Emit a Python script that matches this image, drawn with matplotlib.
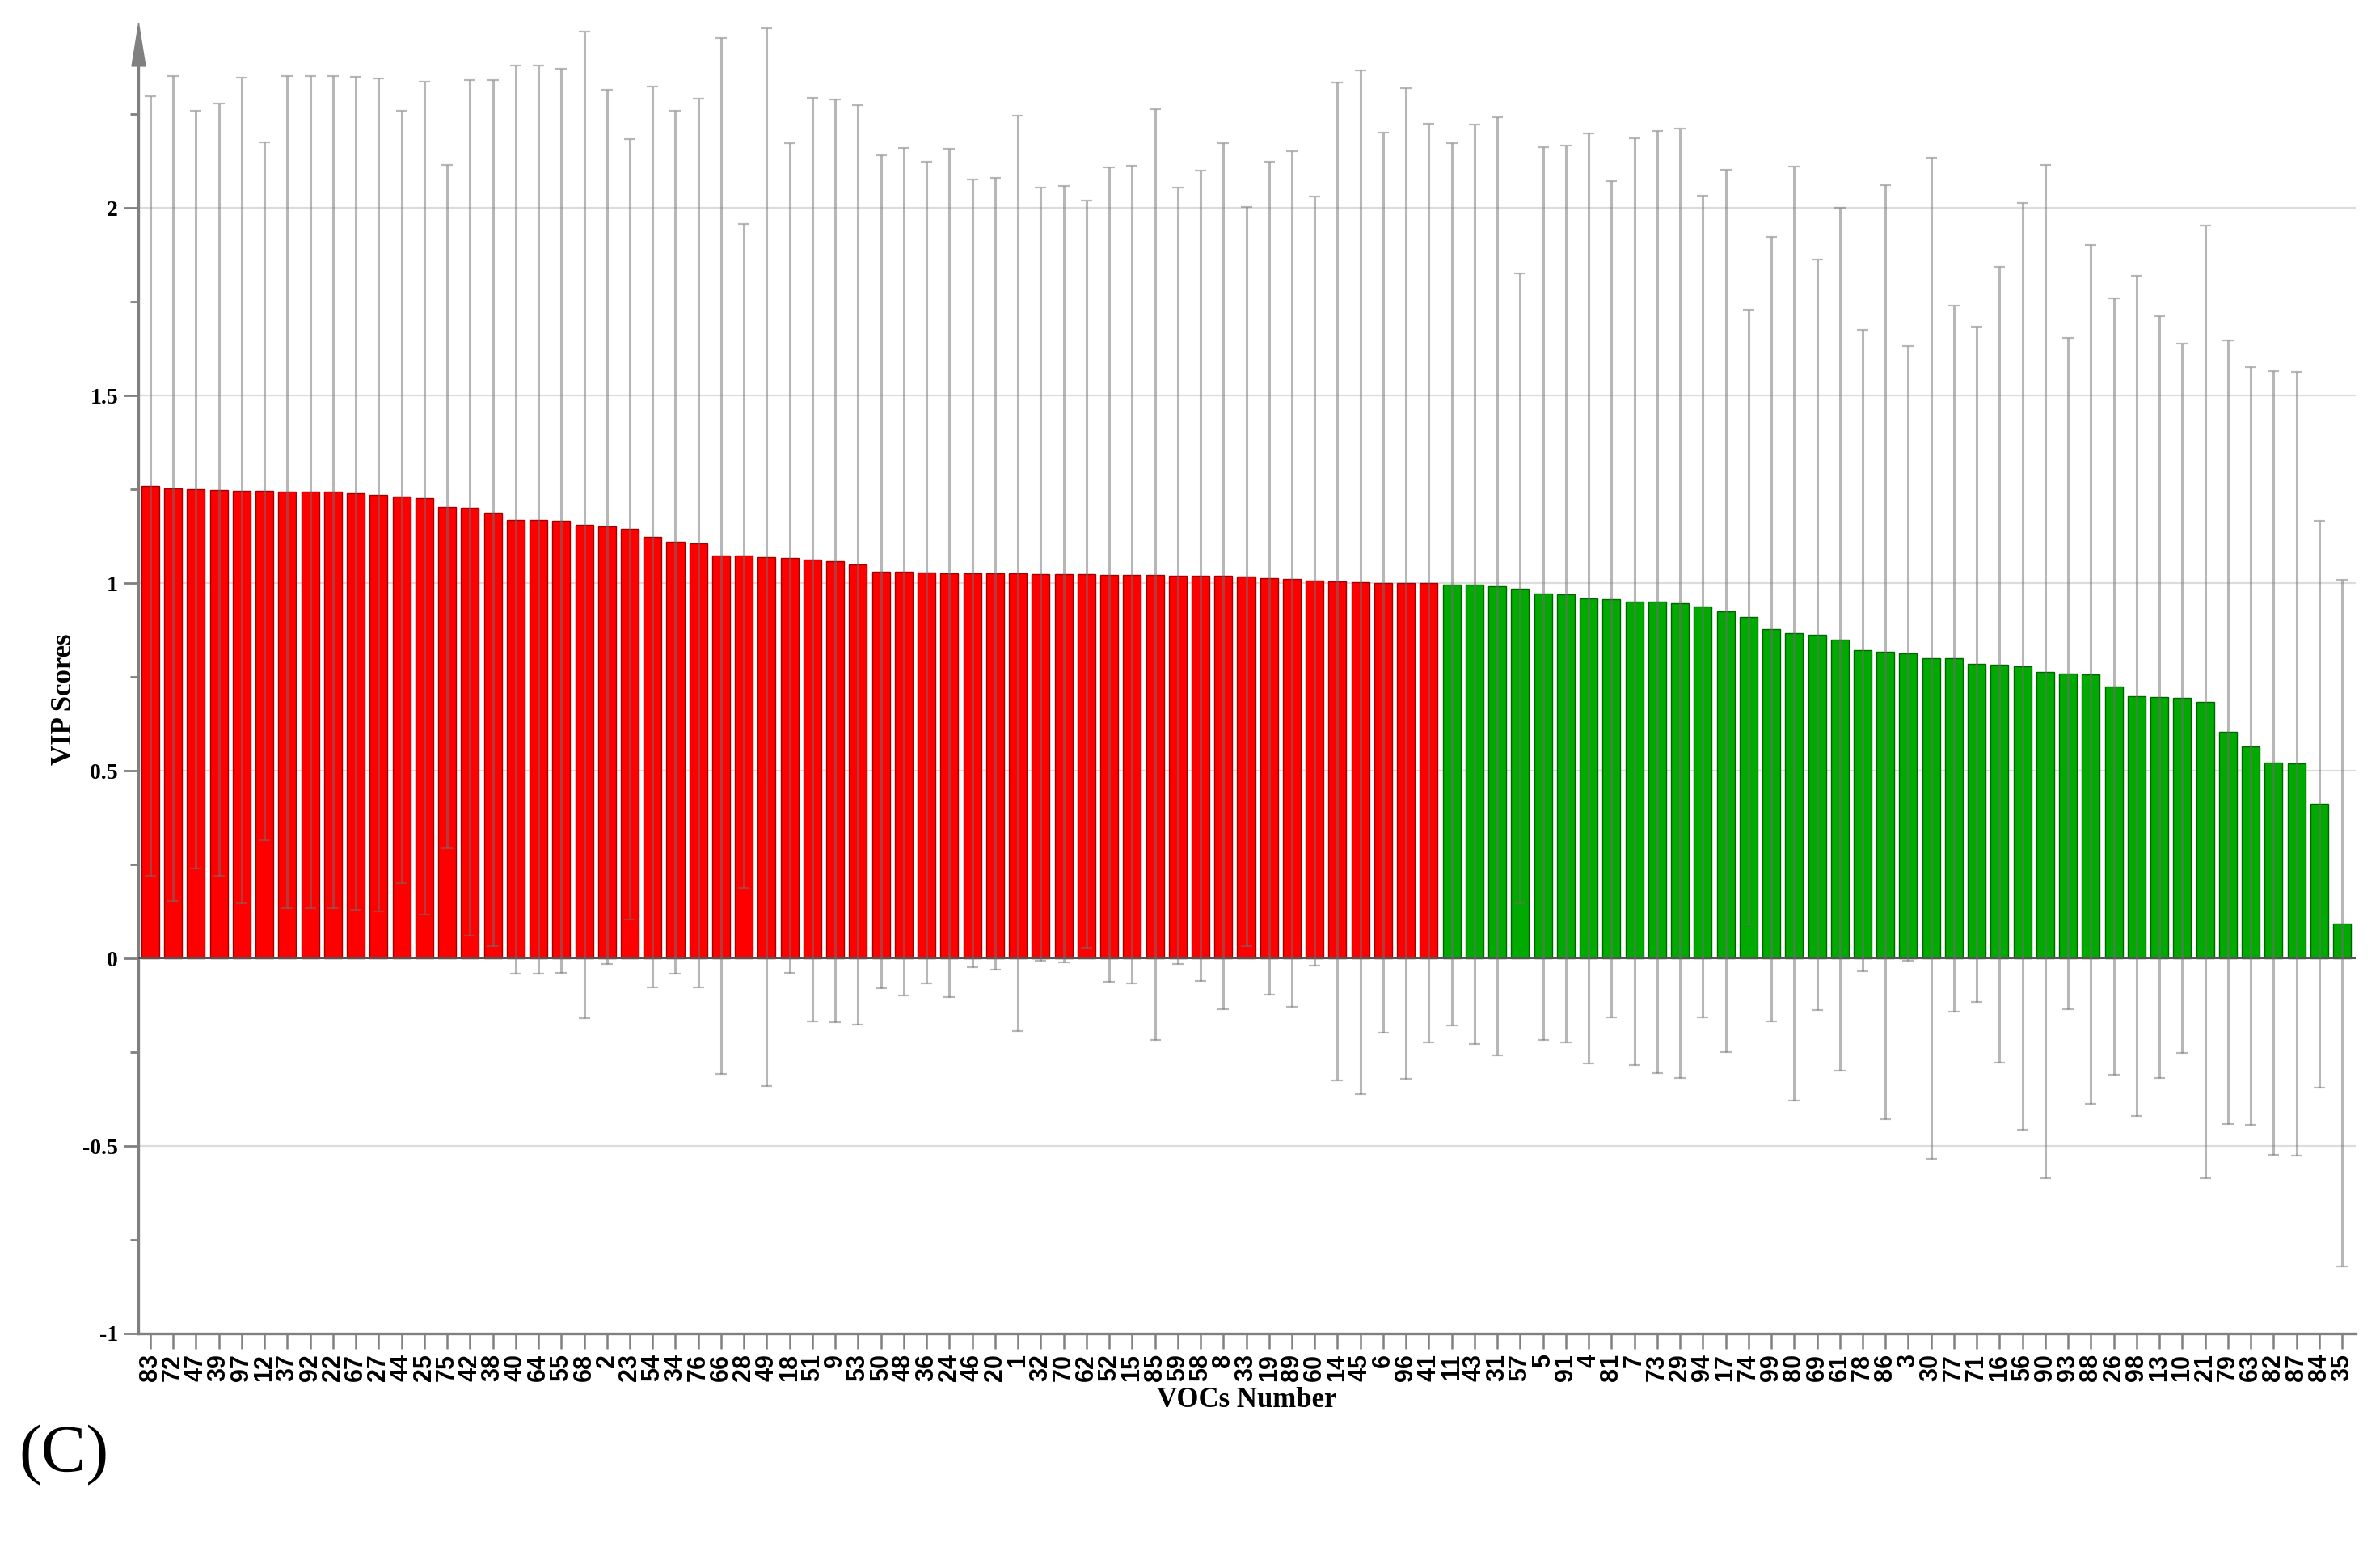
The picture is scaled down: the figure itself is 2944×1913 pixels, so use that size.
import matplotlib
matplotlib.use('Agg')  # sem interface gráfica
import matplotlib.pyplot as plt
from matplotlib.ticker import MultipleLocator
import numpy as np

# VOCs ordenados por VIP
voc_labels = ['83', '72', '47', '39', '97', '12', '37', '92', '22', '67',
              '27', '44', '25', '75', '42', '38', '40', '64', '55', '68',
              '2', '23', '54', '34', '76', '66', '28', '49', '18', '51',
              '9', '53', '50', '48', '36', '24', '46', '20', '1', '32',
              '70', '62', '52', '15', '85', '59', '58', '8', '33', '19',
              '89', '60', '14', '45', '6', '96', '41', '11', '43', '31',
              '57', '5', '91', '4', '81', '7', '73', '29', '94', '17',
              '74', '99', '80', '69', '61', '78', '86', '3', '30', '77',
              '71', '16', '56', '90', '93', '88', '26', '98', '13', '10',
              '21', '79', '63', '82', '87', '84', '35']

vip = [1.259, 1.253, 1.250, 1.249, 1.247, 1.246, 1.243, 1.243, 1.243, 1.239,
       1.236, 1.230, 1.226, 1.204, 1.201, 1.187, 1.169, 1.169, 1.167, 1.156,
       1.151, 1.144, 1.123, 1.110, 1.107, 1.073, 1.073, 1.070, 1.067, 1.063,
       1.059, 1.049, 1.030, 1.030, 1.029, 1.027, 1.027, 1.026, 1.026, 1.024,
       1.024, 1.024, 1.023, 1.023, 1.023, 1.020, 1.019, 1.019, 1.017, 1.014,
       1.011, 1.006, 1.004, 1.003, 1.001, 1.000, 1.000, 0.997, 0.997, 0.991,
       0.986, 0.973, 0.971, 0.959, 0.957, 0.951, 0.950, 0.946, 0.937, 0.926,
       0.910, 0.877, 0.866, 0.863, 0.850, 0.821, 0.817, 0.813, 0.800, 0.799,
       0.784, 0.783, 0.779, 0.764, 0.759, 0.757, 0.724, 0.699, 0.697, 0.694,
       0.683, 0.603, 0.566, 0.521, 0.519, 0.411, 0.093]

# meia-amplitude das barras de erro
vip_err = [1.04, 1.10, 1.01, 1.03, 1.10, 0.93, 1.11, 1.11, 1.11, 1.11,
           1.11, 1.03, 1.11, 0.91, 1.14, 1.155, 1.21, 1.21, 1.205, 1.315,
           1.165, 1.04, 1.20, 1.15, 1.185, 1.38, 0.885, 1.41, 1.105, 1.23,
           1.23, 1.225, 1.11, 1.13, 1.095, 1.13, 1.05, 1.055, 1.22, 1.03,
           1.035, 0.995, 1.085, 1.09, 1.24, 1.035, 1.08, 1.155, 0.985, 1.11,
           1.14, 1.025, 1.33, 1.365, 1.20, 1.32, 1.225, 1.175, 1.225, 1.25,
           0.84, 1.19, 1.195, 1.24, 1.115, 1.235, 1.255, 1.265, 1.095, 1.175,
           0.82, 1.045, 1.245, 1.00, 1.15, 0.855, 1.245, 0.82, 1.335, 0.94,
           0.90, 1.06, 1.235, 1.35, 0.895, 1.145, 1.035, 1.12, 1.015, 0.945,
           1.27, 1.045, 1.01, 1.045, 1.045, 0.755, 0.915]

# os primeiros 57 VOCs ficam em vermelho (VIP > 1)
n_important = 57

y_ticks = [-1, -0.5, 0, 0.5, 1, 1.5, 2]
y_tick_labels = ['-1', '-0.5', '0', '0.5', '1', '1.5', '2']

serif = 'Liberation Serif'
sans = 'Liberation Sans'
axis_gray = '#808080'

x = np.arange(len(vip))
bar_colors = ['#ff0000' if i < n_important else '#00aa00' for i in x]
edge_colors = ['#a00000' if i < n_important else '#006400' for i in x]

fig = plt.figure(figsize=(29.44, 19.13), dpi=100)
ax = fig.add_axes([171 / 2944, 1 - 1649 / 1913, (2914 - 171) / 2944, (1649 - 81) / 1913])

# linhas de grade
for yv in [-0.5, 0.5, 1, 1.5, 2]:
    ax.axhline(yv, color='#dcdcdc', lw=1.6, zorder=0)

ax.bar(x, vip, width=0.78, color=bar_colors, edgecolor=edge_colors, linewidth=1.0, zorder=2)
ax.axhline(0, color='#555555', lw=1.5, zorder=3)

eb = ax.errorbar(x, vip, yerr=vip_err, fmt='none', ecolor='#707070', alpha=0.5,
                 elinewidth=2.2, capsize=5, capthick=1.6, zorder=4)
for part in eb.lines[1] + eb.lines[2]:
    part.set_clip_on(False)

ax.set_xlim(-0.53, 96.6)
ax.set_ylim(-1, 2.38)

# eixos
for side in ['top', 'right']:
    ax.spines[side].set_visible(False)
for side in ['left', 'bottom']:
    ax.spines[side].set_color(axis_gray)
    ax.spines[side].set_linewidth(2.4)

# seta no topo do eixo y
arrow_marker = [(0, 1), (-0.32, -1), (0.32, -1), (0, 1)]
ax.plot([0], [2.38 + 0.055], transform=ax.get_yaxis_transform(), marker=arrow_marker,
        markersize=38, color=axis_gray, clip_on=False, zorder=5)

ax.set_yticks(y_ticks)
ax.set_yticklabels(y_tick_labels, fontfamily=serif, fontweight='bold', fontsize=20)
ax.yaxis.set_minor_locator(MultipleLocator(0.25))
ax.tick_params(axis='y', which='major', length=13, width=2, color=axis_gray, pad=5)
ax.tick_params(axis='y', which='minor', length=7, width=2, color=axis_gray)

ax.set_xticks(x)
ax.set_xticklabels(voc_labels, rotation=90, fontfamily=sans, fontweight='bold', fontsize=22)
ax.tick_params(axis='x', length=14, width=1.8, color=axis_gray, pad=4)

ax.set_ylabel('VIP Scores', fontfamily=serif, fontweight='bold', fontsize=25)
ax.set_xlabel('VOCs Number', fontfamily=serif, fontweight='bold', fontsize=25)
ax.yaxis.set_label_coords(-0.0335, 0.5)
ax.xaxis.set_label_coords(0.5, -0.0523)
ax.xaxis.label.set_va('center')
ax.yaxis.label.set_va('center')

fig.text(23 / 2944, 1 - 1800 / 1913, '(C)', fontfamily=serif, fontsize=60, va='center', ha='left')

fig.savefig('out.png', dpi=100)
plt.close(fig)
